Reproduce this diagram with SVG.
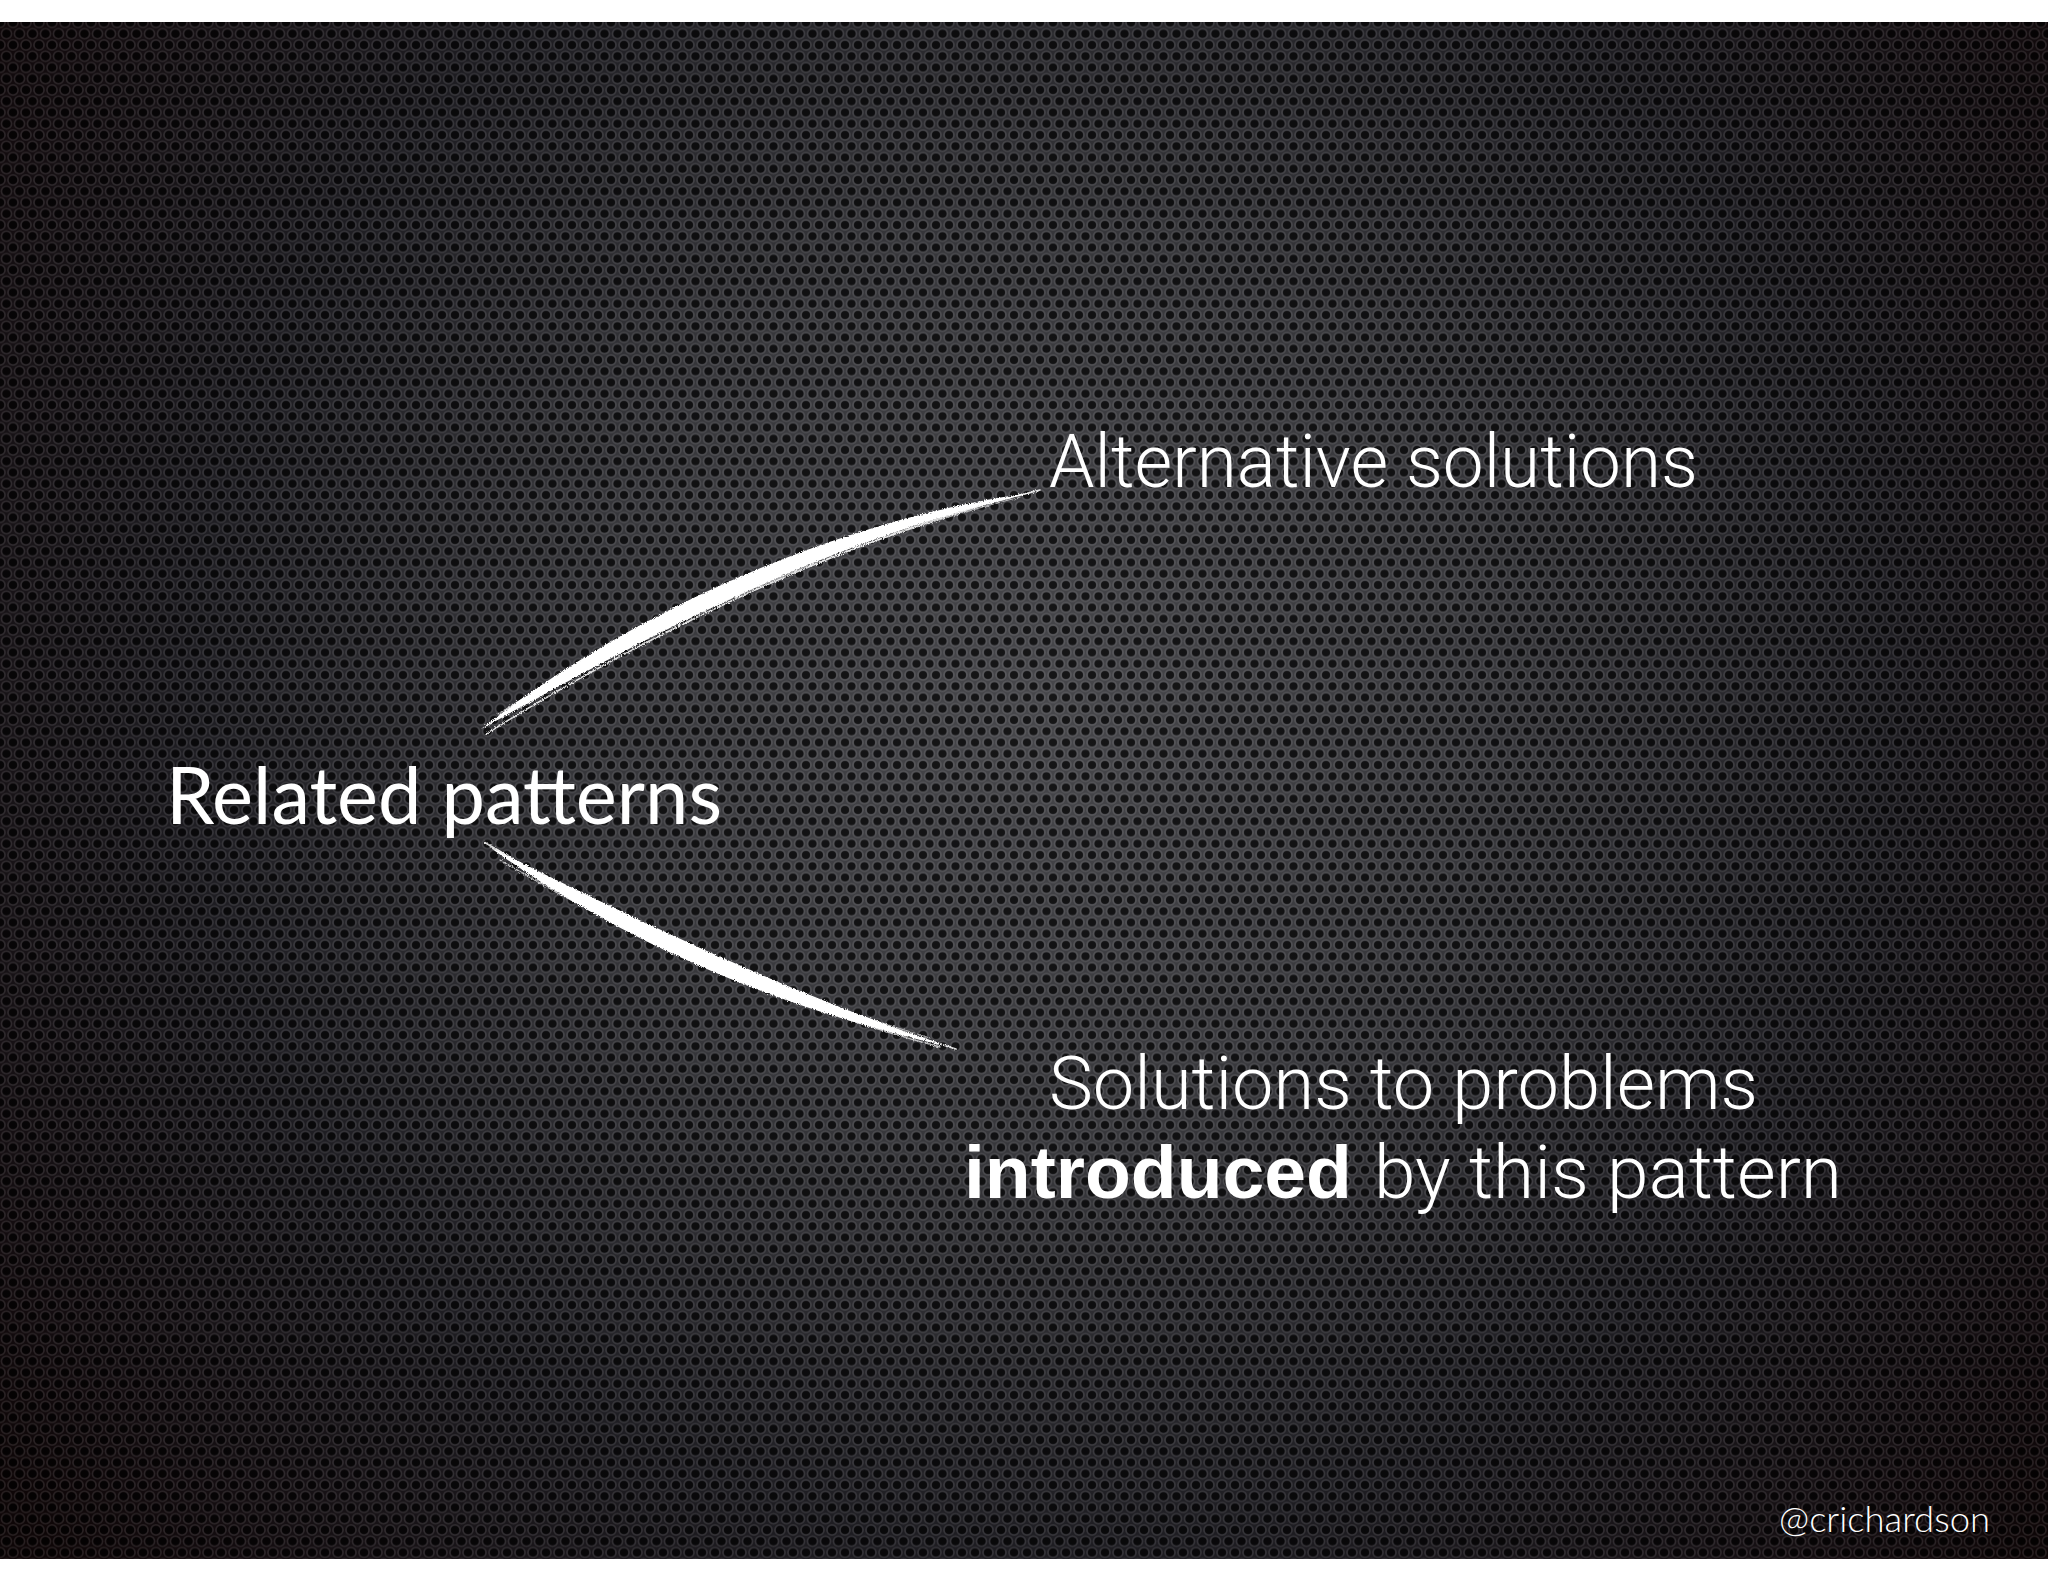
<svg xmlns="http://www.w3.org/2000/svg" width="2048" height="1582" viewBox="0 0 2048 1582">
  <style>
    .light { font-family: Roboto, "Liberation Sans", Arial, sans-serif; font-weight: 300; fill: #ffffff; }
    .bold { font-family: "Liberation Sans", Arial, sans-serif; font-weight: 700; fill: #ffffff; }
    .gill { font-family: Lato, "Open Sans", "DejaVu Sans", sans-serif; fill: #ffffff; }
    .chalk { fill: #ffffff; }
    .strand { fill: none; stroke: #ffffff; stroke-linecap: round; }
  </style>
  <defs>
    <radialGradient id="bg" gradientUnits="userSpaceOnUse" cx="1040" cy="700" r="1300">
      <stop offset="0" stop-color="#47474b"/>
      <stop offset="0.35" stop-color="#37373b"/>
      <stop offset="0.65" stop-color="#1e1d22"/>
      <stop offset="0.9" stop-color="#130c0f"/>
      <stop offset="1" stop-color="#0e0607"/>
    </radialGradient>
    <pattern id="holes" patternUnits="userSpaceOnUse" width="13" height="22.5">
      <g>
        <circle cx="0" cy="0" r="5.1" fill="none" stroke="#ffffff" stroke-opacity="0.10" stroke-width="1.6"/>
        <circle cx="13" cy="0" r="5.1" fill="none" stroke="#ffffff" stroke-opacity="0.10" stroke-width="1.6"/>
        <circle cx="0" cy="22.5" r="5.1" fill="none" stroke="#ffffff" stroke-opacity="0.10" stroke-width="1.6"/>
        <circle cx="13" cy="22.5" r="5.1" fill="none" stroke="#ffffff" stroke-opacity="0.10" stroke-width="1.6"/>
        <circle cx="6.5" cy="11.25" r="5.1" fill="none" stroke="#ffffff" stroke-opacity="0.10" stroke-width="1.6"/>
        <circle cx="0" cy="0" r="4" fill="#000000" fill-opacity="0.7"/>
        <circle cx="13" cy="0" r="4" fill="#000000" fill-opacity="0.7"/>
        <circle cx="0" cy="22.5" r="4" fill="#000000" fill-opacity="0.7"/>
        <circle cx="13" cy="22.5" r="4" fill="#000000" fill-opacity="0.7"/>
        <circle cx="6.5" cy="11.25" r="4" fill="#000000" fill-opacity="0.7"/>
      </g>
    </pattern>
    <filter id="rough" x="-5%" y="-10%" width="110%" height="120%">
      <feTurbulence type="fractalNoise" baseFrequency="0.9" numOctaves="2" seed="3" result="n"/>
      <feDisplacementMap in="SourceGraphic" in2="n" scale="3.5" xChannelSelector="R" yChannelSelector="G"/>
    </filter>
  </defs>

  <rect x="0" y="0" width="2048" height="1582" fill="#ffffff"/>
  <g id="background">
    <rect x="0" y="22" width="2048" height="1537" fill="url(#bg)"/>
    <rect x="0" y="22" width="2048" height="1537" fill="url(#holes)"/>
  </g>

  <g id="connectors" filter="url(#rough)">
    <g id="connector-upper">
      <path class="chalk" d="M481,729 C606,661 802,545 1036,492 C798,525 594,640 481,729 Z"/>
      <path class="strand" stroke-width="1.6" stroke-opacity="0.85" d="M486,734 C612,655 822,543 1040,490"/>
      <path class="strand" stroke-width="1.3" stroke-opacity="0.7" d="M498,714 C622,638 800,542 1010,498"/>
      <path class="strand" stroke-width="1.2" stroke-opacity="0.6" d="M520,708 C640,636 820,548 1020,497"/>
    </g>
    <g id="connector-lower">
      <path class="chalk" d="M488,846 C626,946 786,1010 950,1047 C792,994 641,923 488,846 Z"/>
      <path class="strand" stroke-width="1.6" stroke-opacity="0.85" d="M484,842 C630,930 790,1000 956,1049"/>
      <path class="strand" stroke-width="1.3" stroke-opacity="0.7" d="M500,860 C640,944 800,1010 940,1047"/>
      <path class="strand" stroke-width="1.2" stroke-opacity="0.6" d="M495,848 C640,934 790,996 930,1038"/>
    </g>
  </g>

  <g id="node-related">
    <text class="gill" x="166" y="824" font-size="80" textLength="556" lengthAdjust="spacingAndGlyphs">Related patterns</text>
  </g>
  <g id="node-alternative">
    <text class="light" x="1049" y="487" font-size="74" textLength="649" lengthAdjust="spacingAndGlyphs">Alternative solutions</text>
  </g>
  <g id="node-solutions">
    <text class="light" x="1049" y="1109" font-size="74" textLength="709" lengthAdjust="spacingAndGlyphs">Solutions to problems</text>
    <text class="bold" x="964" y="1198" font-size="74" textLength="388" lengthAdjust="spacingAndGlyphs">introduced</text>
    <text class="light" x="1374" y="1198" font-size="74" textLength="468" lengthAdjust="spacingAndGlyphs">by this pattern</text>
  </g>
  <g id="footer">
    <text class="gill" x="1779" y="1532" font-size="36" font-weight="300" textLength="211" lengthAdjust="spacingAndGlyphs">@crichardson</text>
  </g>
</svg>
